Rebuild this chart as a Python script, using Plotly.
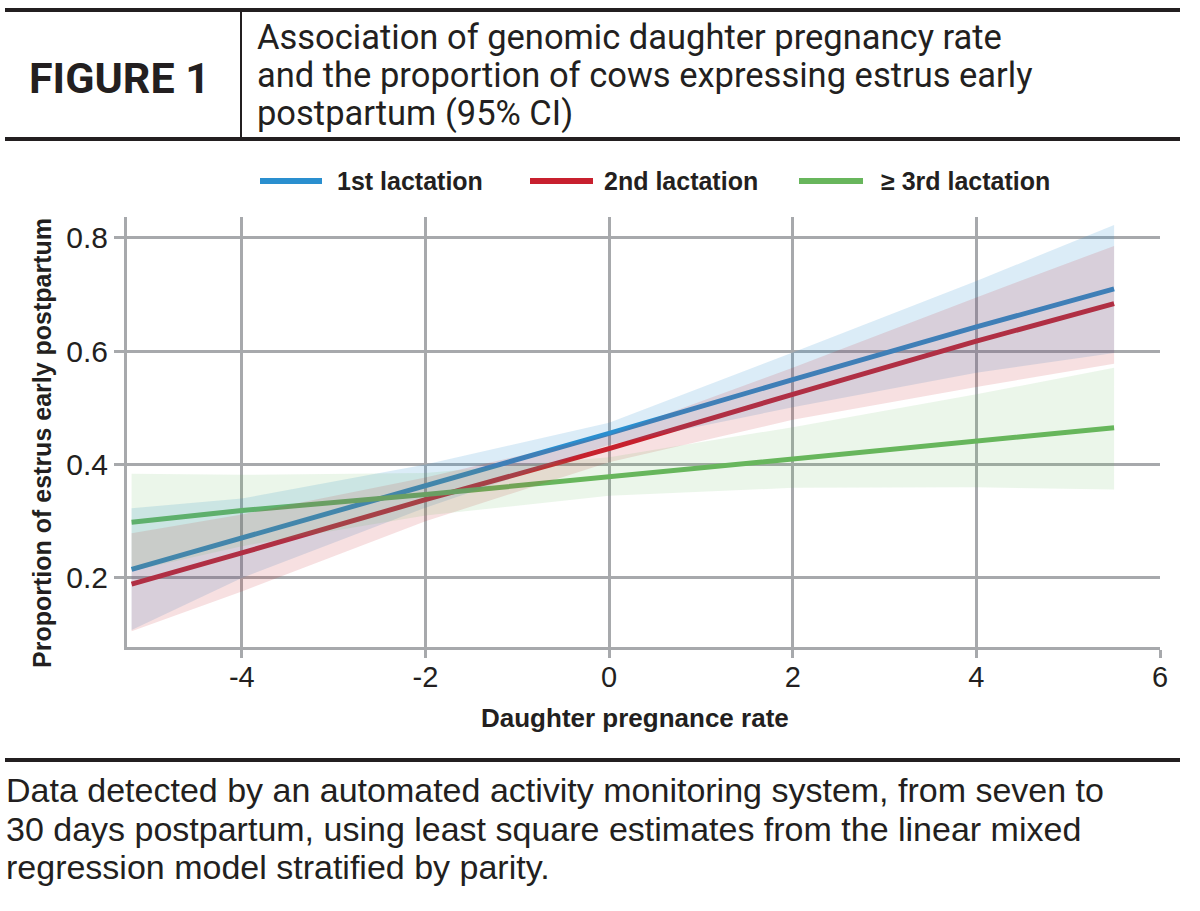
import plotly.graph_objects as go

# ---------------- data ----------------
x_vals = [-5.2, -4, -2, 0, 2, 4, 5.5]
series_names = ["1st lactation", "2nd lactation", "\u2265 3rd lactation"]

first_est = [0.215, 0.270, 0.362, 0.455, 0.550, 0.643, 0.710]
first_lo = [0.108, 0.200, 0.324, 0.435, 0.501, 0.562, 0.597]
first_hi = [0.323, 0.340, 0.400, 0.474, 0.598, 0.724, 0.823]

second_est = [0.189, 0.244, 0.338, 0.428, 0.524, 0.618, 0.684]
second_lo = [0.106, 0.176, 0.300, 0.404, 0.479, 0.537, 0.578]
second_hi = [0.279, 0.312, 0.377, 0.452, 0.571, 0.695, 0.786]

third_est = [0.298, 0.319, 0.347, 0.378, 0.411, 0.442, 0.465]
third_lo = [0.212, 0.256, 0.310, 0.345, 0.359, 0.360, 0.356]
third_hi = [0.384, 0.382, 0.385, 0.413, 0.466, 0.524, 0.571]

x_ticks = [-4, -2, 0, 2, 4, 6]
y_ticks = [0.2, 0.4, 0.6, 0.8]
y_tick_text = ["0.2", "0.4", "0.6", "0.8"]

header_label = "FIGURE 1"
header_title = ["Association of genomic daughter pregnancy rate",
                "and the proportion of cows expressing estrus early",
                "postpartum (95% CI)"]
x_title = "Daughter pregnance rate"
y_title = "Proportion of estrus early postpartum"
caption = ["Data detected by an automated activity monitoring system, from seven to",
           "30 days postpartum, using least square estimates from the linear mixed",
           "regression model stratified by parity."]

# ---------------- styling ----------------
W, H = 1200, 911
L, R, T, B = 127, 1160, 217, 647
colors = ["#2a8fcf", "#c8202e", "#68b65c"]
fills = ["rgba(42,143,207,0.17)", "rgba(200,32,46,0.14)", "rgba(104,182,92,0.13)"]
grid = "#a7a9ac"
ink = "#231f20"
SANS = "Liberation Sans, Arial, sans-serif"
HEAD = "Roboto, Lato, sans-serif"


def px(x):
    return (x - L) / (R - L)


def py(y):
    return (B - y) / (B - T)


fig = go.Figure()

ests = [first_est, second_est, third_est]
los = [first_lo, second_lo, third_lo]
his = [first_hi, second_hi, third_hi]

# lines first (bands are drawn on top of them, as in the reference)
for name, est, c in zip(series_names, ests, colors):
    fig.add_trace(go.Scatter(x=x_vals, y=est, mode="lines", name=name,
                             line=dict(color=c, width=5), showlegend=False,
                             hoverinfo="skip"))

for name, lo, hi, f in zip(series_names, los, his, fills):
    fig.add_trace(go.Scatter(x=x_vals + x_vals[::-1], y=hi + lo[::-1],
                             mode="lines", fill="toself", fillcolor=f,
                             line=dict(width=0), showlegend=False,
                             hoverinfo="skip", name=name + " 95% CI"))

fig.update_layout(
    width=W, height=H,
    margin=dict(l=L, r=W - R, t=T, b=H - B),
    paper_bgcolor="white", plot_bgcolor="white",
    showlegend=False,
)
fig.update_xaxes(range=[-5.25, 6], tickvals=x_ticks, ticktext=[str(v) for v in x_ticks],
                 showgrid=True, gridcolor=grid, gridwidth=3,
                 showline=True, linecolor=grid, linewidth=3,
                 ticks="outside", ticklen=8, tickwidth=3, tickcolor=grid,
                 ticklabelstandoff=-6,
                 tickfont=dict(family=SANS, size=29, color=ink),
                 zeroline=False, fixedrange=True)
fig.update_yaxes(range=[0.078, 0.837], tickvals=y_ticks, ticktext=y_tick_text,
                 showgrid=True, gridcolor=grid, gridwidth=3,
                 showline=True, linecolor=grid, linewidth=3,
                 ticks="outside", ticklen=10, tickwidth=3, tickcolor=grid,
                 tickfont=dict(family=SANS, size=30, color=ink),
                 zeroline=False, fixedrange=True)

shapes = []
ann = []

# header rules
shapes.append(dict(type="line", xref="paper", yref="paper", x0=px(5), x1=px(1180),
                   y0=py(10), y1=py(10), line=dict(color=ink, width=4)))
shapes.append(dict(type="line", xref="paper", yref="paper", x0=px(5), x1=px(1180),
                   y0=py(139), y1=py(139), line=dict(color=ink, width=4)))
shapes.append(dict(type="line", xref="paper", yref="paper", x0=px(241), x1=px(241),
                   y0=py(12), y1=py(137), line=dict(color=ink, width=2)))
# caption rule
shapes.append(dict(type="line", xref="paper", yref="paper", x0=px(5), x1=px(1180),
                   y0=py(760), y1=py(760), line=dict(color=ink, width=4)))

ann.append(dict(text="<b>" + header_label + "</b>", xref="paper", yref="paper",
                x=px(27), y=py(78), xanchor="left", yanchor="middle", showarrow=False,
                font=dict(family=HEAD, size=43, color=ink)))
for i, line in enumerate(header_title):
    ann.append(dict(text=line, xref="paper", yref="paper",
                    x=px(255), y=py(37 + 38 * i), xanchor="left", yanchor="middle",
                    showarrow=False, font=dict(family=HEAD, size=34.5, color=ink)))

for i, line in enumerate(caption):
    ann.append(dict(text=line, xref="paper", yref="paper",
                    x=px(4), y=py(790 + 38.5 * i), xanchor="left", yanchor="middle",
                    showarrow=False, font=dict(family=SANS, size=34, color=ink)))

# axis titles
ann.append(dict(text="<b>" + x_title + "</b>", xref="paper", yref="paper",
                x=px(635), y=py(718), xanchor="center", yanchor="middle", showarrow=False,
                font=dict(family=SANS, size=26, color=ink)))
ann.append(dict(text="<b>" + y_title + "</b>", xref="paper", yref="paper",
                x=px(42), y=py(443), xanchor="center", yanchor="middle", showarrow=False,
                textangle=-90, font=dict(family=SANS, size=25, color=ink)))

# legend (manual, to match the long line keys)
key_x = [(260, 322, 335), (530, 593, 602), (799, 863, 879)]
for (x0, x1, tx), name, c in zip(key_x, series_names, colors):
    shapes.append(dict(type="line", xref="paper", yref="paper", x0=px(x0), x1=px(x1),
                       y0=py(181), y1=py(181), line=dict(color=c, width=6)))
    ann.append(dict(text="<b>" + name + "</b>", xref="paper", yref="paper",
                    x=px(tx), y=py(181), xanchor="left", yanchor="middle", showarrow=False,
                    font=dict(family=SANS, size=25, color=ink)))

fig.update_layout(shapes=shapes, annotations=ann)
fig.write_html("out.html")
